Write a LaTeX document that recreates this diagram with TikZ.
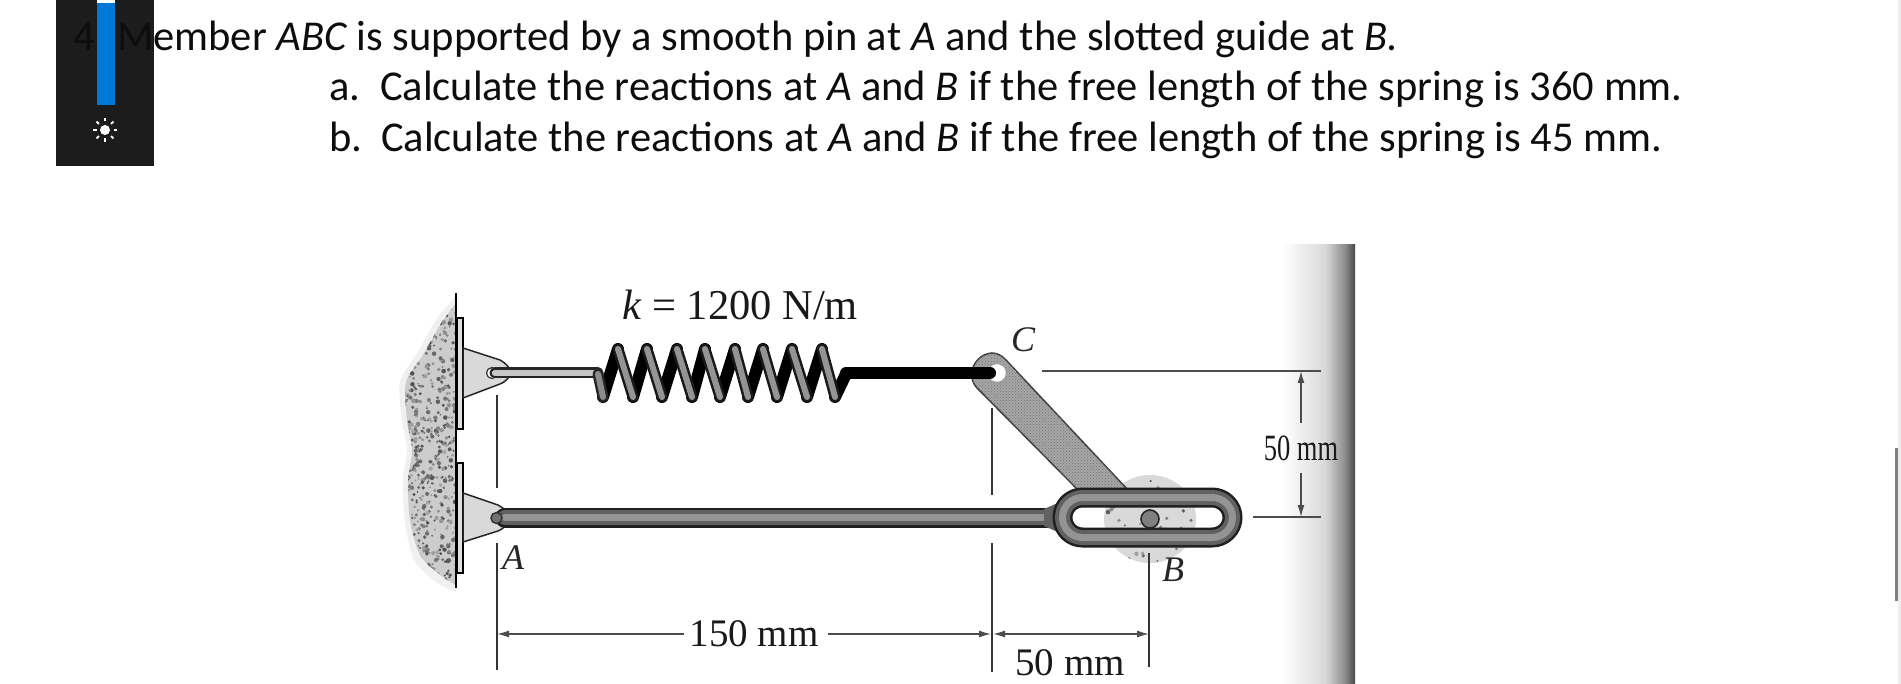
\documentclass[tikz,border=0pt]{standalone}
\usepackage{fontspec}
\setmainfont{Carlito}
\newfontfamily\figfont{Liberation Serif}
\usetikzlibrary{arrows.meta,patterns}
\definecolor{panel}{HTML}{1C1C1C}
\definecolor{barblue}{HTML}{0078D7}
\tikzset{
  prose/.style={anchor=base west,inner sep=0pt,font=\fontsize{42.5}{42.5}\selectfont,text=black!95},
  figlabel/.style={inner sep=0pt,font=\figfont\fontsize{39}{39}\selectfont,text=black!90},
  figitalic/.style={inner sep=0pt,font=\figfont\fontsize{36}{36}\selectfont\itshape,text=black!85},
  extline/.style={draw=black!80,line width=1.4pt},
  dimline/.style={draw=black!70,line width=1.4pt},
  dimarrow/.style={dimline,-{Latex[length=12pt,width=7pt]}},
  plate/.style={draw=black,line width=1.6pt,fill=black!12},
  bracket/.style={draw=black!85,line width=1.5pt,fill=black!15},
}
\newcommand{\bardraw}[1]{%
  \draw[line width=20pt,black!88,line cap=round,line join=round] #1;
  \draw[line width=15pt,black!62,line cap=round,line join=round] #1;
  \draw[line width=7pt,black!42,line cap=round,line join=round] #1;
}
\newcommand{\speckle}[5]{% x0, x1, y0, y1, count
  \foreach \n in {1,...,#5}{
    \pgfmathsetmacro{\px}{#1+(#2-#1)*rnd}
    \pgfmathsetmacro{\py}{#3+(#4-#3)*rnd}
    \pgfmathsetmacro{\pr}{0.9+1.4*rnd}
    \pgfmathsetmacro{\pg}{int(35+35*rnd)}
    \fill[black!\pg] (\px,\py) circle (\pr pt);
  }
}
\begin{document}
\begin{tikzpicture}[x=1pt,y=-1pt]
\useasboundingbox (0,0) rectangle (1901,684);
\fill[white] (0,0) rectangle (1901,684);
\pgfmathsetseed{1234}

% side panel
\fill[panel] (56,0) rectangle (154,166);
\fill[white] (97,0) rectangle (115,3);
\fill[barblue] (97,3) rectangle (115,105);
\fill[white] (105,130) circle (5pt);
\foreach \a in {0,45,...,315}
  \draw[white,line width=2pt] (105,130) ++(\a:8.5) -- ++(\a:3.5);

% scrollbar
\fill[black!7] (1898,0) rectangle (1901,684);
\fill[black!50] (1895,448) rectangle (1898,601);

% prose
\node[prose] (qnum) at (73,51) {4};
\node[prose] (q0) at (117,51) {Member \textit{ABC} is supported by a smooth pin at \textit{A} and the slotted guide at \textit{B.}};
\node[prose] (qa) at (329,101) {a.};
\node[prose] (qat) at (380,101) {Calculate the reactions at \textit{A} and \textit{B} if the free length of the spring is 360 mm.};
\node[prose] (qb) at (329,152) {b.};
\node[prose] (qbt) at (381,152) {Calculate the reactions at \textit{A} and \textit{B} if the free length of the spring is 45 mm.};

% right wall
\fill[left color=white,right color=black!15] (1282,245) rectangle (1325,684);
\fill[left color=black!15,right color=black!45] (1325,245) rectangle (1345,684);
\fill[left color=black!45,right color=black!72] (1345,245) rectangle (1355,684);

% left stone mass
\fill[black!6] plot[smooth] coordinates {(456,296) (436,320) (418,352) (400,382) (402,420) (407,450) (403,480) (405,522) (414,560) (436,582) (456,592)} -- cycle;
\begin{scope}
  \clip plot[smooth] coordinates {(456,303) (440,325) (423,355) (406,382) (407,420) (412,450) (408,480) (410,520) (420,555) (440,575) (456,585)} -- cycle;
  \fill[black!20] (400,300) rectangle (457,590);
  \speckle{403}{457}{300}{590}{650}
\end{scope}

% B stone patch
\begin{scope}
  \clip (1150,519) ellipse [x radius=46pt,y radius=44pt];
  \fill[black!15] (1100,470) rectangle (1200,570);
  \speckle{1104}{1196}{474}{564}{45}
\end{scope}

% wall line and plates
\draw[draw=black,line width=2.2pt] (456,293) -- (456,588);
\draw[plate] (457,318) rectangle (463,429);
\draw[plate] (457,463) rectangle (463,573);

% brackets
\draw[bracket] (463,348) -- (500,360) .. controls (507,364) and (510,368) .. (510,372) .. controls (510,377) and (507,381) .. (500,384) -- (463,398) -- cycle;
\draw[bracket] (463,493) -- (498,505) .. controls (505,509) and (509,513) .. (509,518) .. controls (509,523) and (505,528) .. (498,531) -- (463,542) -- cycle;

% dimension extension lines
\coordinate (aT1) at (497,395); \coordinate (aB1) at (497,488);
\coordinate (aT2) at (497,543); \coordinate (aB2) at (497,670);
\coordinate (cT1) at (992,408); \coordinate (cB1) at (992,495);
\coordinate (cT2) at (992,543); \coordinate (cB2) at (992,672);
\coordinate (bT) at (1149,553); \coordinate (bB) at (1149,667);
\coordinate (rT0) at (1042,371); \coordinate (rT1) at (1321,371);
\coordinate (rB0) at (1253,517); \coordinate (rB1) at (1321,517);
\draw[extline] (aT1) -- (aB1);
\draw[extline] (aT2) -- (aB2);
\draw[extline] (cT1) -- (cB1);
\draw[extline] (cT2) -- (cB2);
\draw[extline] (bT) -- (bB);
\draw[dimline] (rT0) -- (rT1);
\draw[dimline] (rB0) -- (rB1);

% lower rod
\bardraw{(505,517.5) -- (1060,517.5)}
\fill[black!62] (1044,509) -- (1060,502) -- (1060,533) -- (1044,526) -- cycle;

% link to C
\draw[draw=black!75,line width=1.5pt,fill=black!35] (1078,490) -- (977,388) .. controls (965,375) and (975,354) .. (992,353) .. controls (998,353) and (1002,356) .. (1006,360) -- (1128,490) -- cycle;
\fill[pattern=crosshatch dots,pattern color=black!55] (1078,490) -- (977,388) .. controls (965,375) and (975,354) .. (992,353) .. controls (998,353) and (1002,356) .. (1006,360) -- (1128,490) -- cycle;

% slot ring
\bardraw{(1082.5,497.5) -- (1212,497.5) arc[start angle=90,end angle=-90,x radius=20.5pt,y radius=20pt] -- (1082.5,537.5) arc[start angle=270,end angle=90,x radius=20pt,y radius=20pt] -- cycle}

% slider pin B
\draw[draw=black!85,line width=1.6pt,fill=black!50] (1150,519) circle (9pt);

% pins A and upper bracket hole
\draw[draw=black!80,line width=1.5pt,fill=black!55] (496.5,518) circle (5.5pt);
\draw[draw=black!80,line width=1.2pt,fill=white] (492,373) circle (5.5pt);

% spring end rod (left)
\draw[line width=11pt,black!85,line cap=round] (495,373) -- (598,373);
\draw[line width=6.5pt,black!22,line cap=round] (495,373) -- (598,373);

% spring
\foreach \bx/\px in {603/618,633/647,662/677,692/705,720/735,748/763,777/792,807/822}
  \draw[black,line width=12pt,line cap=round] (\bx,397) -- (\px,349);
\draw[black,line width=12pt,line cap=round] (835,397) -- (846,374);
\draw[black!85,line width=11pt,line cap=round] (598,374) -- (603,397);
\draw[black!45,line width=6pt,line cap=round] (598,374) -- (603,397);
\foreach \px/\bx in {618/633,647/662,677/692,705/720,735/748,763/777,792/807,822/835}{
  \draw[black!90,line width=11pt,line cap=round] (\px,349) -- (\bx,397);
  \draw[black!42,line width=6pt,line cap=round] (\px,349) -- (\bx,397);
}

% black rod to C
\draw[white,fill=white] (997,373) circle (8.5pt);
\draw[black,line width=12pt,line cap=round] (846,373) -- (990,373);

% dimension arrows
\coordinate (dA) at (497,634); \coordinate (dL) at (684,634);
\coordinate (dR) at (828,634); \coordinate (dC) at (992,634);
\coordinate (dB) at (1149,634);
\draw[dimarrow] (dL) -- (dA);
\draw[dimarrow] (dR) -- ([xshift=-1pt]dC);
\draw[dimarrow] ([xshift=55pt]dC) -- ([xshift=1pt]dC);
\draw[dimarrow] ([xshift=40pt]dC) -- (dB);
\coordinate (vT) at (1301,423); \coordinate (vTt) at (1301,371);
\coordinate (vB) at (1301,473); \coordinate (vBt) at (1301,517);
\draw[dimarrow] (vT) -- (vTt);
\draw[dimarrow] (vB) -- (vBt);

% labels
\node[figlabel,anchor=base west,font=\figfont\fontsize{42.5}{42.5}\selectfont] (klabel) at (622,320) {\textit{k} = 1200 N/m};
\node[figlabel] (dim150) at (754,634) {150 mm};
\node[figlabel] (dim50b) at (1070,663) {50 mm};
\node[figlabel,xscale=0.68,yscale=0.95] (dim50r) at (1301,448) {50 mm};
\node[figitalic] (lA) at (513,558) {A};
\node[figitalic] (lB) at (1173,570) {B};
\node[figitalic] (lC) at (1023,340) {C};
\end{tikzpicture}
\end{document}
